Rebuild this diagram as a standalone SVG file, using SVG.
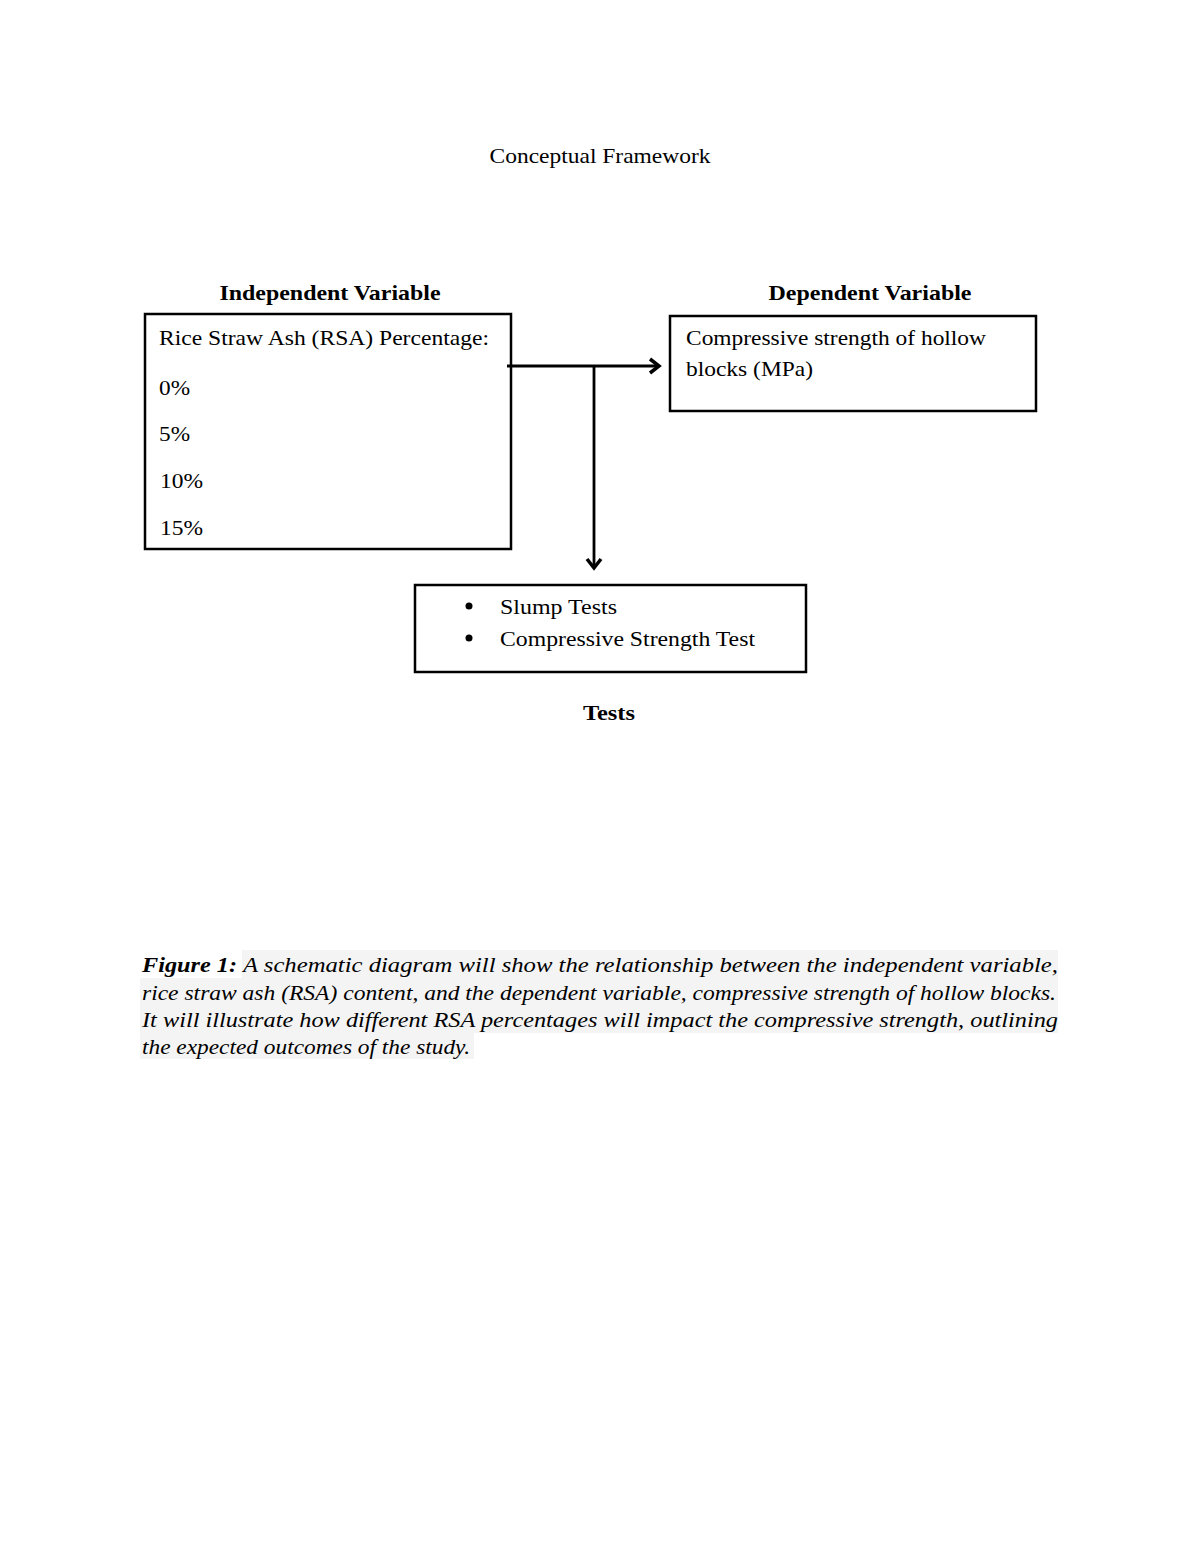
<svg xmlns="http://www.w3.org/2000/svg" width="1200" height="1553" viewBox="0 0 1200 1553">
<style>
.t{font-family:"Liberation Serif","Times New Roman",serif;font-size:21px;fill:#000}
.b{font-weight:bold}
.c{font-family:"Liberation Serif","Times New Roman",serif;font-size:21px;font-style:italic;fill:#000}
.box{fill:#fff;stroke:#000;stroke-width:2.5}
.ln{fill:none;stroke:#000;stroke-width:2.8}
.hl{fill:#f4f4f4}
</style>
<defs>
<marker id="arr" markerWidth="16" markerHeight="18" refX="12" refY="9" orient="auto" markerUnits="userSpaceOnUse">
<path d="M3,2 L12,9 L3,16" fill="none" stroke="#000" stroke-width="3.5"/>
</marker>
</defs>
<rect width="1200" height="1553" fill="#fff"/>
<text class="t" x="600" y="163" text-anchor="middle" textLength="221" lengthAdjust="spacingAndGlyphs">Conceptual Framework</text>

<g id="independent">
<text class="t b" x="330" y="300" text-anchor="middle" textLength="221" lengthAdjust="spacingAndGlyphs">Independent Variable</text>
<rect class="box" x="145" y="314" width="366" height="235"/>
<text class="t" x="159" y="345" textLength="330" lengthAdjust="spacingAndGlyphs">Rice Straw Ash (RSA) Percentage:</text>
<text class="t" x="159" y="395" textLength="31" lengthAdjust="spacingAndGlyphs">0%</text>
<text class="t" x="159" y="441" textLength="31" lengthAdjust="spacingAndGlyphs">5%</text>
<text class="t" x="160" y="488" textLength="43" lengthAdjust="spacingAndGlyphs">10%</text>
<text class="t" x="160" y="535" textLength="43" lengthAdjust="spacingAndGlyphs">15%</text>
</g>

<g id="dependent">
<text class="t b" x="870" y="300" text-anchor="middle" textLength="203" lengthAdjust="spacingAndGlyphs">Dependent Variable</text>
<rect class="box" x="670" y="316" width="366" height="95"/>
<text class="t" x="686" y="345" textLength="300" lengthAdjust="spacingAndGlyphs">Compressive strength of hollow</text>
<text class="t" x="686" y="376" textLength="127" lengthAdjust="spacingAndGlyphs">blocks (MPa)</text>
</g>

<g id="tests">
<rect class="box" x="415" y="585" width="391" height="87"/>
<circle cx="469" cy="606" r="3.5" fill="#000"/>
<circle cx="469" cy="638" r="3.5" fill="#000"/>
<text class="t" x="500" y="614" textLength="117" lengthAdjust="spacingAndGlyphs">Slump Tests</text>
<text class="t" x="500" y="646" textLength="255" lengthAdjust="spacingAndGlyphs">Compressive Strength Test</text>
<text class="t b" x="609" y="720" text-anchor="middle" textLength="52" lengthAdjust="spacingAndGlyphs">Tests</text>
</g>

<g id="connectors">
<line class="ln" x1="507" y1="366" x2="659" y2="366" marker-end="url(#arr)"/>
<line class="ln" x1="594" y1="366" x2="594" y2="568" marker-end="url(#arr)"/>
</g>

<g id="caption">
<rect class="hl" x="242" y="950" width="816" height="28"/>
<rect class="hl" x="140" y="978" width="918" height="55"/>
<rect class="hl" x="140" y="1033" width="334" height="26"/>
<text class="c b" x="142" y="972" textLength="95" lengthAdjust="spacingAndGlyphs">Figure 1:</text>
<text class="c" x="243" y="972" textLength="815" lengthAdjust="spacingAndGlyphs">A schematic diagram will show the relationship between the independent variable,</text>
<text class="c" x="142" y="1000" textLength="914" lengthAdjust="spacingAndGlyphs">rice straw ash (RSA) content, and the dependent variable, compressive strength of hollow blocks.</text>
<text class="c" x="142" y="1027" textLength="916" lengthAdjust="spacingAndGlyphs">It will illustrate how different RSA percentages will impact the compressive strength, outlining</text>
<text class="c" x="142" y="1054" textLength="328" lengthAdjust="spacingAndGlyphs">the expected outcomes of the study.</text>
</g>
</svg>
